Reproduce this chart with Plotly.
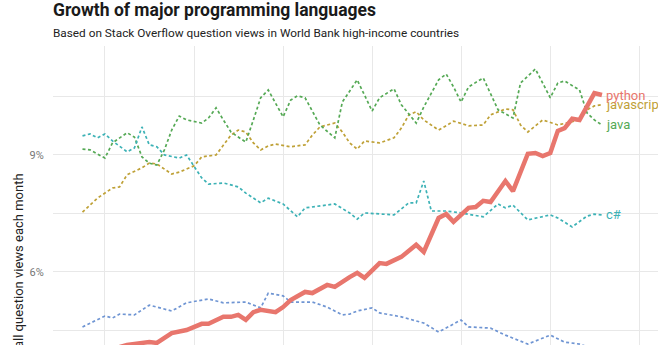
import plotly.graph_objects as go

# ---- data (share of question views, %) ----
python_dates = ["2011-10","2011-12","2012-02","2012-04","2012-06","2012-07","2012-08","2012-09","2012-10","2012-12",
                "2013-02","2013-03","2013-05","2013-06","2013-07","2013-08","2013-09","2013-10","2013-12","2014-01",
                "2014-02","2014-04","2014-05","2014-07","2014-08","2014-10","2014-11","2014-12","2015-02","2015-03",
                "2015-05","2015-07","2015-08","2015-10","2015-11","2015-12","2016-02","2016-03","2016-04","2016-05",
                "2016-07","2016-08","2016-10","2016-11","2016-12","2017-01","2017-02","2017-03","2017-04","2017-05",
                "2017-06","2017-07","2017-08"]
python_vals = [3.83,3.94,4.01,4.12,4.17,4.19,4.17,4.30,4.42,4.50,
               4.66,4.66,4.84,4.84,4.89,4.76,4.96,5.02,4.96,5.09,
               5.27,5.48,5.45,5.66,5.61,5.86,5.97,5.84,6.22,6.20,
               6.38,6.69,6.51,7.38,7.48,7.28,7.64,7.66,7.82,7.79,
               8.33,8.07,9.03,9.05,8.97,9.05,9.62,9.69,9.93,9.90,
               10.23,10.59,10.54]

javascript_dates = ["2011-10","2011-12","2012-02","2012-03","2012-04","2012-06","2012-07","2012-08","2012-10","2012-11",
                    "2013-01","2013-02","2013-04","2013-05","2013-06","2013-07","2013-08","2013-09","2013-10","2013-11",
                    "2013-12","2014-02","2014-04","2014-05","2014-06","2014-08","2014-09","2014-10","2014-11","2014-12",
                    "2015-02","2015-04","2015-05","2015-06","2015-07","2015-08","2015-10","2015-11","2015-12","2016-02",
                    "2016-04","2016-05","2016-07","2016-08","2016-09","2016-10","2016-12","2017-02","2017-04","2017-05",
                    "2017-06","2017-07","2017-08"]
javascript_vals = [7.53,7.89,8.15,8.18,8.49,8.67,8.79,8.77,8.51,8.56,
                   8.72,8.95,9.00,9.26,9.51,9.64,9.59,9.31,9.13,9.23,
                   9.28,9.21,9.26,9.51,9.72,9.82,9.59,9.31,9.15,9.36,
                   9.31,9.44,9.69,10.03,10.11,9.90,9.64,9.75,9.87,9.75,
                   9.77,10.03,10.18,10.16,9.77,9.59,9.90,9.77,9.85,9.90,
                   10.16,10.26,10.29]

java_dates = ["2011-10","2011-11","2012-01","2012-02","2012-04","2012-05","2012-06","2012-07","2012-08","2012-09",
              "2012-10","2012-11","2012-12","2013-02","2013-03","2013-04","2013-05","2013-06","2013-07","2013-08",
              "2013-09","2013-10","2013-11","2014-01","2014-02","2014-03","2014-04","2014-06","2014-08","2014-09",
              "2014-11","2015-01","2015-02","2015-04","2015-05","2015-07","2015-08","2015-10","2015-11","2015-12",
              "2016-01","2016-02","2016-04","2016-05","2016-06","2016-08","2016-09","2016-11","2016-12","2017-01",
              "2017-02","2017-03","2017-05","2017-06","2017-07","2017-08"]
java_vals = [9.15,9.13,8.92,9.31,9.57,9.46,8.95,8.79,8.74,9.13,
             9.64,10.00,9.90,9.82,9.95,10.21,9.90,9.59,9.46,9.33,
             9.90,10.47,10.67,9.98,10.41,10.52,10.47,9.77,9.44,10.36,
             10.93,10.13,10.47,10.70,10.29,9.82,10.23,10.93,11.08,10.75,
             10.36,10.75,10.98,10.59,10.16,9.95,10.85,11.21,10.85,10.47,
             10.85,10.90,10.67,10.08,9.90,9.77]

csharp_dates = ["2011-10","2011-11","2011-12","2012-01","2012-02","2012-04","2012-05","2012-06","2012-07","2012-08",
                "2012-09","2012-11","2012-12","2013-02","2013-03","2013-05","2013-07","2013-08","2013-10","2013-11",
                "2014-01","2014-03","2014-04","2014-08","2014-10","2014-11","2014-12","2015-04","2015-06","2015-07",
                "2015-08","2015-09","2015-11","2016-01","2016-04","2016-06","2016-07","2016-08","2016-10","2017-01",
                "2017-02","2017-04","2017-06","2017-07","2017-08"]
csharp_vals = [9.49,9.54,9.44,9.54,9.36,9.08,9.18,9.72,9.26,9.21,
               9.00,8.92,9.00,8.41,8.25,8.28,8.18,8.02,7.77,7.89,
               7.74,7.41,7.64,7.74,7.51,7.35,7.51,7.46,7.77,7.77,
               8.33,7.56,7.56,7.51,7.41,7.74,7.64,7.71,7.33,7.46,
               7.38,7.15,7.43,7.48,7.46]

php_dates = ["2011-10","2011-11","2012-01","2012-02","2012-03","2012-05","2012-07","2012-08","2012-10","2012-12",
             "2013-03","2013-05","2013-08","2013-10","2013-11","2014-01","2014-02","2014-05","2014-07","2014-09",
             "2014-10","2014-11","2015-01","2015-02","2015-05","2015-08","2015-10","2016-01","2016-02","2016-05",
             "2016-07","2016-10","2017-01","2017-03","2017-05","2017-07","2017-08"]
php_vals = [4.58,4.68,4.86,4.81,4.91,4.89,5.14,5.09,4.99,5.20,
            5.30,5.20,5.22,5.07,5.45,5.38,5.22,5.22,5.09,4.89,
            4.91,4.99,5.07,4.94,4.84,4.68,4.45,4.76,4.58,4.55,
            4.37,4.14,4.37,4.19,4.14,4.01,3.99]

series = [
    ("javascript", javascript_dates, javascript_vals, "#BFA137", "dotted"),
    ("java", java_dates, java_vals, "#55A955", "dotted"),
    ("c#", csharp_dates, csharp_vals, "#3DB2B6", "dotted"),
    ("php", php_dates, php_vals, "#6F95D3", "dotted"),
    ("python", python_dates, python_vals, "#E8766D", "solid"),
]

W, H = 658, 345
L, T = 53, 46
PW, PH = W - L, H - T

def px(p):
    return (p - L) / PW

def py(p):
    return 1 + (T - p) / PH

NARROW = "Liberation Sans Narrow, Roboto"

fig = go.Figure()
for name, d, v, col, style in series:
    if style == "solid":
        line = dict(color=col, width=4.5)
    else:
        line = dict(color=col, width=1.7, dash="3px,2.5px")
    fig.add_trace(go.Scatter(x=[s + "-01" for s in d], y=v, mode="lines", line=line,
                             name=name, hoverinfo="skip"))

annotations = []
for name, d, v, col, style in series:
    annotations.append(dict(x=d[-1] + "-01", y=v[-1], xref="x", yref="y", text=name,
                            showarrow=False, xanchor="left", yanchor="middle", xshift=2,
                            font=dict(family=NARROW, size=13, color=col)))

annotations.append(dict(x=px(53), y=py(10), xref="paper", yref="paper", xanchor="left", yanchor="middle",
                        xshift=-2, showarrow=False, text="<b>Growth of major programming languages</b>",
                        font=dict(family="Roboto", size=17.5, color="#1a1a1a")))
annotations.append(dict(x=px(53), y=py(33), xref="paper", yref="paper", xanchor="left", yanchor="middle",
                        xshift=-2, showarrow=False,
                        text="Based on Stack Overflow question views in World Bank high-income countries",
                        font=dict(family=NARROW, size=11.8, color="#222222")))
annotations.append(dict(x=px(18), y=py(172), xref="paper", yref="paper", xanchor="center", yanchor="top",
                        textangle=-90, showarrow=False,
                        text="% of overall question views each month",
                        font=dict(family=NARROW, size=13, color="#222222")))

grid = "#E8E8E8"
fig.update_layout(
    width=W, height=H,
    margin=dict(l=L, r=0, t=T, b=0, autoexpand=False),
    plot_bgcolor="white", paper_bgcolor="white",
    showlegend=False,
    annotations=annotations,
    xaxis=dict(type="date", range=["2011-06-02", "2018-03-19"], dtick="M12", tick0="2012-01-01",
               showgrid=True, gridcolor=grid, gridwidth=1, showticklabels=False,
               zeroline=False, showline=False, ticks="", automargin=False),
    yaxis=dict(range=[4.116, 11.80], tick0=0, dtick=3, ticksuffix="%",
               showgrid=True, gridcolor=grid, gridwidth=1, zeroline=False, showline=False,
               minor=dict(tick0=0, dtick=1.5, showgrid=True, gridcolor=grid, gridwidth=1),
               ticks="outside", ticklen=6, tickcolor="rgba(0,0,0,0)",
               tickfont=dict(family="Roboto", size=11, color="#777777"), automargin=False),
)

fig.write_html("out.html")
